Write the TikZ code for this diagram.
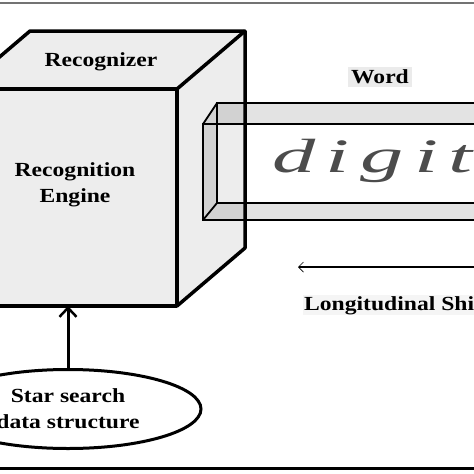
\documentclass[tikz,border=0pt]{standalone}
\usepackage{fontspec}
\setmainfont{Liberation Serif}[FakeStretch=1.18]
\newfontfamily\handfont{Liberation Serif}[FakeStretch=1.8, LetterSpace=22]
\usetikzlibrary{arrows.meta, shapes.geometric}

\begin{document}
\begin{tikzpicture}[x=1pt, y=-1pt,
	lbl/.style={font=\bfseries\fontsize{20}{26}\selectfont, inner sep=1pt, align=center},
	edge/.style={line width=3.5pt, line join=round},
	thin edge/.style={line width=1.8pt},
	face/.style={fill=black!7},
	strip/.style={fill=black!11}
	]
	\useasboundingbox (0,0) rectangle (474,474);
	\clip (0,0) rectangle (474,474);
	
	% cube corners
	\coordinate (ftl) at (-38,89);
	\coordinate (ftr) at (177,89);
	\coordinate (fbr) at (177,306);
	\coordinate (fbl) at (-38,306);
	\coordinate (btl) at (30,31);
	\coordinate (btr) at (245,31);
	\coordinate (bbr) at (245,248);
	
	% word box corners
	\coordinate (wftl) at (203,124);
	\coordinate (wfbl) at (203,220);
	\coordinate (wbtl) at (217,103);
	\coordinate (wbbl) at (217,203);
	
	% word box
	\fill[strip] (wftl) -- (wbtl) -- (wbtl -| 480,0) -- (wftl -| 480,0) -- cycle;
	\fill[strip] (wfbl) -- (wbbl) -- (wbbl -| 480,0) -- (wfbl -| 480,0) -- cycle;
	\fill[strip] (wftl) -- (wbtl) -- (wbbl) -- (wfbl) -- cycle;
	\draw[thin edge] (wbtl -| 480,0) -- (wbtl) -- (wbbl) -- (wbbl -| 480,0);
	\draw[thin edge] (wftl -| 480,0) -- (wftl) -- (wfbl) -- (wfbl -| 480,0);
	\draw[thin edge] (wftl) -- (wbtl);
	\draw[thin edge] (wfbl) -- (wbbl);
	
	\node (digits) [anchor=base west, text=black!70, inner sep=0pt] at (272,172) {\handfont\itshape\fontsize{48}{48}\selectfont digits};
	
	% cube
	\fill[face] (ftl) rectangle (fbr);
	\fill[face] (ftl) -- (btl) -- (btr) -- (ftr) -- cycle;
	\fill[black, fill opacity=0.07] (ftr) -- (btr) -- (bbr) -- (fbr) -- cycle;
	\draw[edge] (ftl) rectangle (fbr);
	\draw[edge] (ftl) -- (btl) -- (btr) -- (bbr) -- (fbr);
	\draw[edge] (ftr) -- (btr);
	
	\node (recognizer) [lbl] at (101,62) {Recognizer};
	\node (engine) [lbl] at (75,185) {Recognition\\Engine};
	\node (word) [lbl, fill=black!8, inner sep=3pt] at (380,77) {Word};
	
	% shift
	\coordinate (shiftR) at (480,267);
	\coordinate (shiftL) at (298,267);
	\draw[line width=1.8pt, -{Straight Barb[line width=0.7pt, length=5pt, width=10pt]}] (shiftR) -- (shiftL);
	\node (shift) [lbl, anchor=base west, fill=black!4] at (303,310) {Longitudinal Shift};
	
	% star search
	\node (star) [lbl, ellipse, draw, line width=3pt, minimum width=266pt, minimum height=79pt, inner sep=0pt] at (68,409) {Star search\\data structure};
	\draw[line width=3pt, -{Straight Barb[line width=2.5pt, length=9pt, width=17pt]}] (star.north) -- (star.north |- fbr);
	
	% borders
	\draw[line width=1.5pt, black!55] (0,3) -- (474,3);
	\draw[line width=3pt] (0,468) -- (474,468);
\end{tikzpicture}
\end{document}
